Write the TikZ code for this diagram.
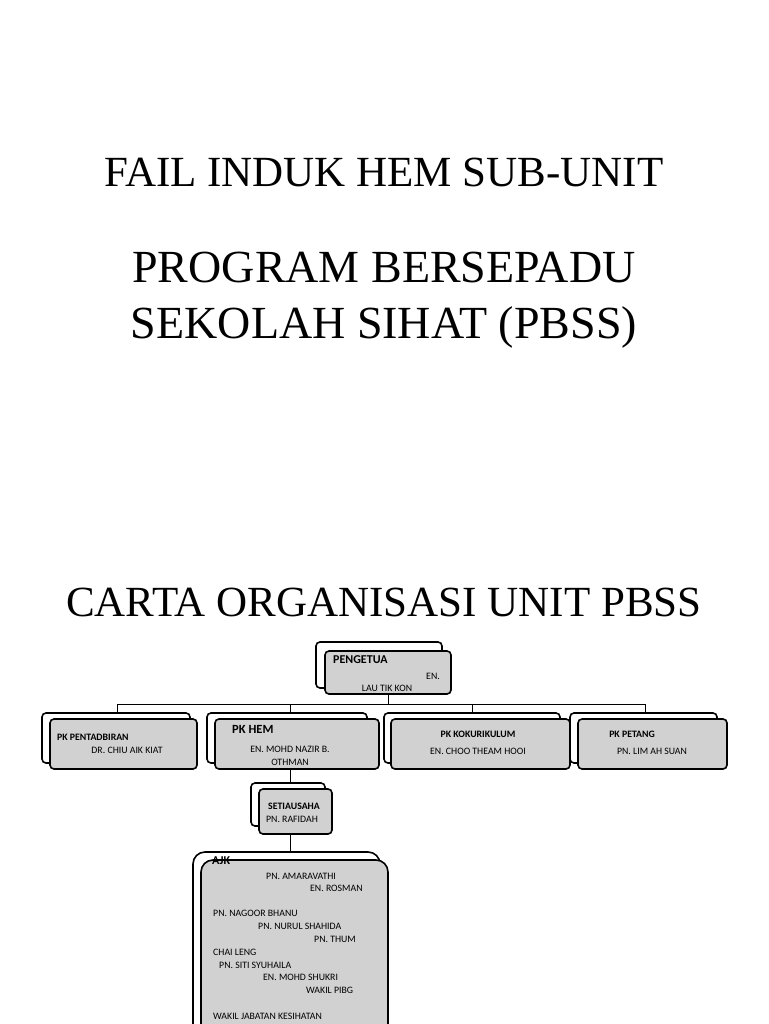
\documentclass[tikz,border=0pt]{standalone}
\usepackage{fontspec}
\setmainfont{Liberation Serif}
\newfontfamily\calfont{Carlito}
\begin{document}
\begin{tikzpicture}[x=1pt,y=-1pt,
 back/.style={draw=black,line width=1.6pt,rounded corners=4pt,fill=white},
 front/.style={draw=black,line width=1.6pt,rounded corners=4pt,fill=black!18},
 ln/.style={draw=black,line width=1pt},
 t/.style={font=\calfont\fontsize{9.8}{10}\selectfont,inner sep=0pt},
 tb/.style={font=\calfont\bfseries\fontsize{9.8}{10}\selectfont,inner sep=0pt},
 title/.style={font=\fontsize{43}{46}\selectfont,inner sep=0pt,align=center}]
\useasboundingbox (0,0) rectangle (768,1024);
\clip (0,0) rectangle (768,1024);
\node[title] (t1) at (384,172) {FAIL INDUK HEM SUB-UNIT};
\node[title,font=\fontsize{46}{56}\selectfont] (t2) at (384,300) {PROGRAM BERSEPADU\\SEKOLAH SIHAT (PBSS)};
\node[title] (t3) at (384,602) {CARTA ORGANISASI UNIT PBSS};
% connectors
\coordinate (hl) at (117,704); \coordinate (hr) at (645,704);
\draw[ln] (hl) -- (hr);
\draw[ln] (388,694) -- (388,704);
\foreach \x in {117,290,472,645} \draw[ln] (\x,704) -- (\x,714);
\draw[ln] (290,769) -- (290,784);
\draw[ln] (290,834) -- (290,853);
% Pengetua
\draw[back] (316,642) rectangle (442,688);
\draw[front] (325,651) rectangle (451,694);
\node[tb,font=\calfont\bfseries\fontsize{12}{12}\selectfont,anchor=west] (p1) at (333,660) {PENGETUA};
\node[t,anchor=east] (p2) at (440,676) {EN.};
\node[t] (p3) at (387,688) {LAU TIK KON};
% row
\draw[back] (42,713) rectangle (190,763); \draw[front] (50,719) rectangle (197,769);
\node[tb,anchor=west] (a1) at (57,737) {PK PENTADBIRAN};
\node[t] (a2) at (127,750) {DR. CHIU AIK KIAT};
\draw[back] (207,713) rectangle (367,763); \draw[front] (215,719) rectangle (379,769);
\node[tb,font=\calfont\bfseries\fontsize{12.5}{12}\selectfont,anchor=west] (b1) at (232,729) {PK HEM};
\node[t] (b2) at (290,749) {EN. MOHD NAZIR B.};
\node[t] (b3) at (290,762) {OTHMAN};
\draw[back] (384,713) rectangle (560,763); \draw[front] (391,719) rectangle (570,769);
\node[tb] (c1) at (478,734) {PK KOKURIKULUM};
\node[t] (c2) at (478,751) {EN. CHOO THEAM HOOI};
\draw[back] (570,713) rectangle (717,763); \draw[front] (578,719) rectangle (727,769);
\node[tb] (d1) at (632,734) {PK PETANG};
\node[t] (d2) at (652,751) {PN. LIM AH SUAN};
% setiausaha
\draw[back] (251,783) rectangle (325,826); \draw[front] (259,789) rectangle (332,834);
\node[tb] (s1) at (294,806) {SETIAUSAHA};
\node[t] (s2) at (292,819) {PN. RAFIDAH};
% AJK
\draw[back,rounded corners=12pt] (193,852) rectangle (380,1060);
\draw[front,rounded corners=12pt] (201,860) rectangle (388,1068);
\node[tb,font=\calfont\bfseries\fontsize{12}{12}\selectfont,anchor=west] (j0) at (212,861) {AJK};
\node[t,anchor=west] (j1) at (266,876) {PN. AMARAVATHI};
\node[t,anchor=west] (j2) at (310,888) {EN. ROSMAN};
\node[t,anchor=west] (j3) at (213,913) {PN. NAGOOR BHANU};
\node[t,anchor=west] (j4) at (258,926) {PN. NURUL SHAHIDA};
\node[t,anchor=west] (j5) at (314,939) {PN. THUM};
\node[t,anchor=west] (j6) at (213,952) {CHAI LENG};
\node[t,anchor=west] (j7) at (219,965) {PN. SITI SYUHAILA};
\node[t,anchor=west] (j8) at (263,977) {EN. MOHD SHUKRI};
\node[t,anchor=west] (j9) at (306,990) {WAKIL PIBG};
\node[t,anchor=west] (j10) at (213,1016) {WAKIL JABATAN KESIHATAN};
\end{tikzpicture}
\end{document}
